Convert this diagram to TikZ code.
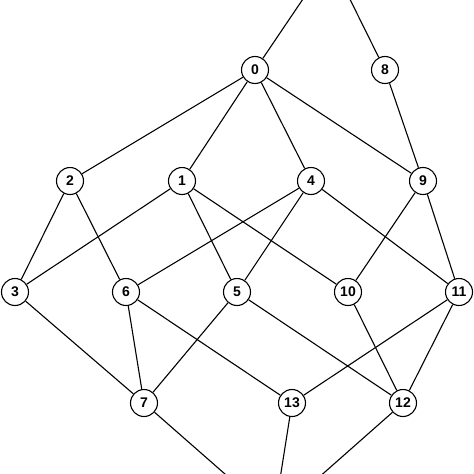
\documentclass[tikz,border=0pt]{standalone}
\usepackage{fontspec}
\setmainfont{Liberation Sans}
\begin{document}
\begin{tikzpicture}[x=1pt,y=-1pt,
  vtx/.style={circle,draw,line width=1.1pt,minimum size=27pt,inner sep=0pt,fill=white,font=\fontsize{14}{14}\selectfont\bfseries},
  edge/.style={line width=1.1pt}]
\useasboundingbox (0,0) rectangle (474,474);
\clip (0,0) rectangle (474,474);
\node[vtx] (n0) at (255,70) {0};
\node[vtx] (n8) at (385,70) {8};
\node[vtx] (n2) at (70,181) {2};
\node[vtx] (n1) at (182,181) {1};
\node[vtx] (n4) at (311,181) {4};
\node[vtx] (n9) at (423,181) {9};
\node[vtx] (n3) at (15,292) {3};
\node[vtx] (n6) at (126,292) {6};
\node[vtx] (n5) at (237,292) {5};
\node[vtx] (n10) at (348,292) {10};
\node[vtx] (n11) at (459,292) {11};
\node[vtx] (n7) at (144,403) {7};
\node[vtx] (n13) at (292,403) {13};
\node[vtx] (n12) at (403,403) {12};
\coordinate (top) at (330,-41);
\coordinate (bot) at (274,517);
\foreach \a/\b in {n0/top,n8/top,n0/n2,n0/n1,n0/n4,n0/n9,n8/n9,
  n2/n3,n2/n6,n1/n3,n1/n5,n1/n10,n4/n6,n4/n5,n4/n11,n9/n10,n9/n11,
  n3/n7,n6/n7,n6/n13,n5/n7,n5/n12,n10/n12,n11/n13,n11/n12,
  n7/bot,n13/bot,n12/bot}
  \draw[edge] (\a) -- (\b);
\end{tikzpicture}
\end{document}
